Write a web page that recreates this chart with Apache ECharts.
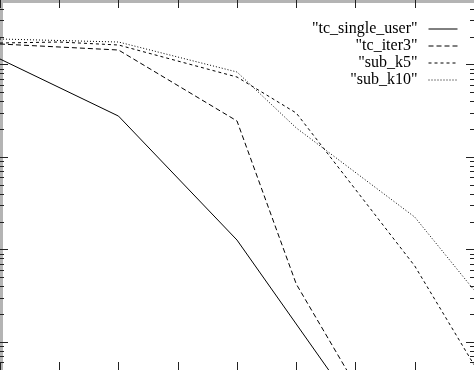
<!DOCTYPE html>
<html lang="en">

<head>
    <meta charset="UTF-8">
    <title>Document</title>
    <style>
        html, body { margin: 0; padding: 0; background: #fff; }
        #chart { width: 474px; height: 370px; }
    </style>
    <script src="https://cdn.jsdelivr.net/npm/echarts@6/dist/echarts.min.js"></script>
</head>

<body>
    <div id="chart"></div>
    <script>
        // series values, [x, y] at the visible vertices
        var seriesNames = ['"tc_single_user"', '"tc_iter3"', '"sub_k5"', '"sub_k10"'];
        var tcSingleUser = [[0, 1151], [2, 278], [4, 12.7], [6, 0.194]];
        var tcIter3 = [[0, 1672], [2, 1440], [4, 246], [5, 4.25], [6, 0.344]];
        var subK5 = [[0, 1714], [1, 1757], [2, 1631], [4, 735], [5, 300], [7, 6.66], [8, 0.57]];
        var subK10 = [[0, 1894], [2, 1757], [4, 833], [5, 207], [7, 22.5], [8, 3.66]];

        // axis ranges and tick values
        var xMin = 0, xMax = 8;
        var yMin = 0.5, yMax = 5000;
        var decades = [0.1, 1, 10, 100, 1000];
        var minorSteps = [2, 3, 4, 5, 6, 7, 8, 9];

        var majorTicks = decades.filter(function (d) { return d > yMin && d < yMax; });
        var minorTicks = [];
        decades.forEach(function (d) {
            minorSteps.forEach(function (m) {
                var v = +(d * m).toPrecision(3);
                if (v > yMin && v < yMax) minorTicks.push(v);
            });
        });

        function logAxis(pos, ticks, len) {
            return {
                type: 'log',
                position: pos,
                min: yMin,
                max: yMax,
                axisLine: pos == 'left'
                    ? { show: true, lineStyle: { color: '#b4b4b4', width: 5 } }
                    : { show: false },
                axisTick: {
                    show: true,
                    inside: true,
                    length: len,
                    customValues: ticks,
                    lineStyle: { color: '#222', width: 1 }
                },
                axisLabel: { show: false },
                splitLine: { show: false },
                minorTick: { show: false }
            };
        }

        function xAxisDef(pos) {
            return {
                type: 'value',
                position: pos,
                min: xMin,
                max: xMax,
                interval: 1,
                axisLine: pos == 'top'
                    ? { show: true, lineStyle: { color: '#b4b4b4', width: 5 } }
                    : { show: false },
                axisTick: {
                    show: true,
                    inside: true,
                    length: 8,
                    lineStyle: { color: '#222', width: 1 }
                },
                axisLabel: { show: false },
                splitLine: { show: false }
            };
        }

        var dashes = ['solid', [5, 3], [3, 3], [1, 2]];
        var datas = [tcSingleUser, tcIter3, subK5, subK10];

        echarts.init(document.getElementById('chart')).setOption({
            animation: false,
            backgroundColor: '#fff',
            grid: { left: 0, right: 0, top: 0, bottom: 0 },
            legend: {
                orient: 'vertical',
                align: 'right',
                right: 11,
                top: 16,
                itemWidth: 29,
                itemHeight: 10,
                itemGap: 1,
                itemStyle: { opacity: 0 },
                lineStyle: { width: 1 },
                textStyle: {
                    fontFamily: 'Liberation Serif',
                    fontSize: 16,
                    lineHeight: 14,
                    color: '#000',
                    padding: [0, 6, 0, 0]
                },
                data: seriesNames
            },
            xAxis: [xAxisDef('bottom'), xAxisDef('top')],
            yAxis: [
                logAxis('left', majorTicks, 8),
                logAxis('left', minorTicks, 4),
                logAxis('right', majorTicks, 8),
                logAxis('right', minorTicks, 4)
            ],
            series: seriesNames.map(function (name, i) {
                return {
                    name: name,
                    type: 'line',
                    symbol: 'none',
                    xAxisIndex: 0,
                    yAxisIndex: 0,
                    lineStyle: { color: '#000', width: 1, type: dashes[i] },
                    itemStyle: { color: '#000' },
                    data: datas[i]
                };
            })
        });
    </script>
</body>

</html>
